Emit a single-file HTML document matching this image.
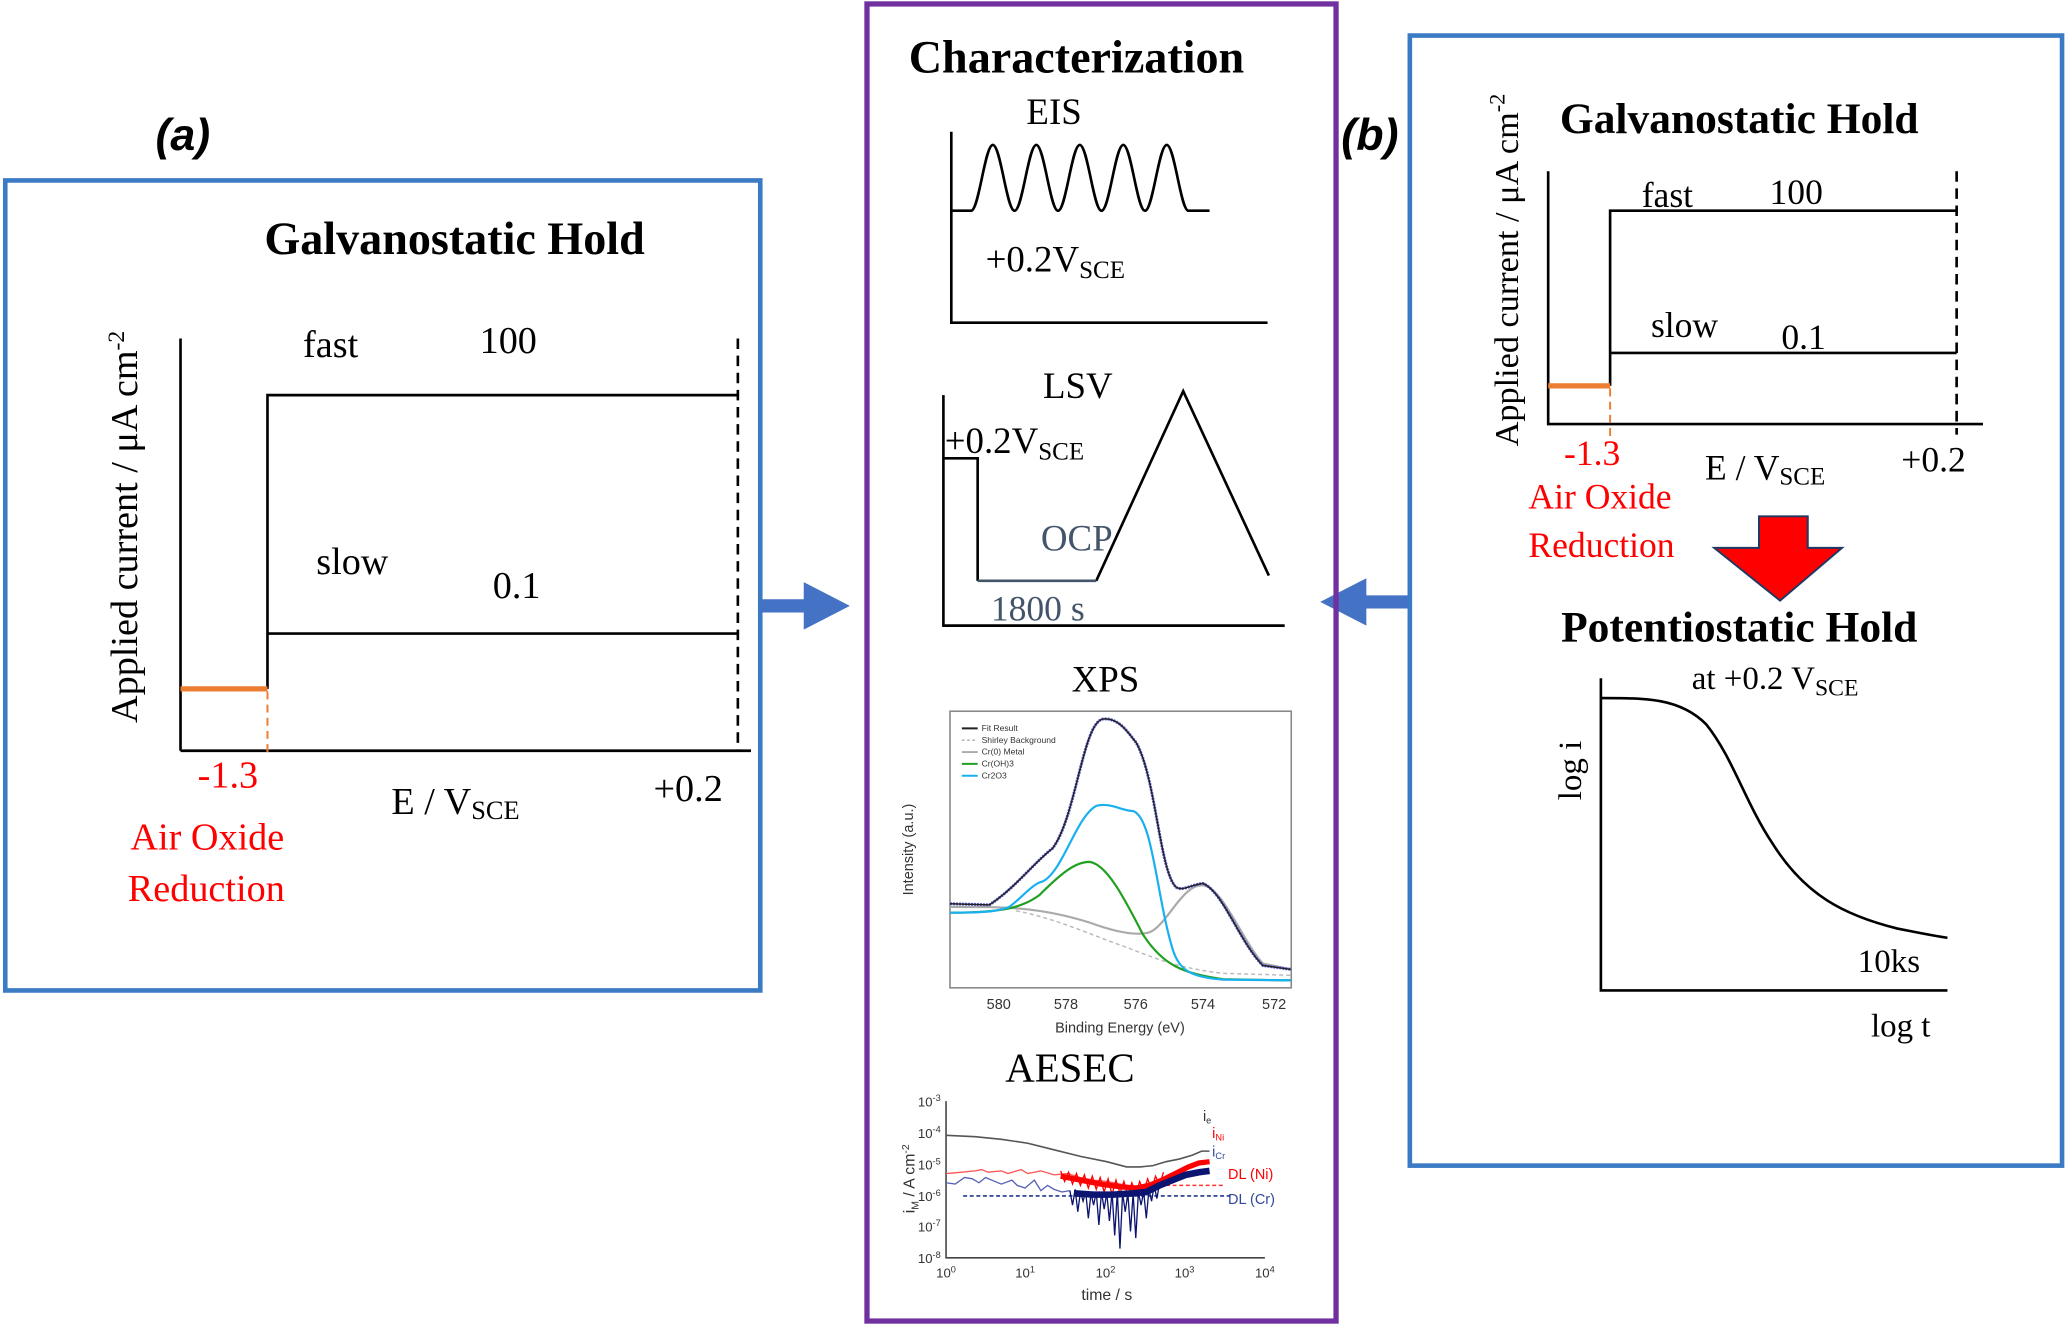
<!DOCTYPE html>
<html><head><meta charset="utf-8"><style>
html,body{margin:0;padding:0;background:#fff;}
svg{display:block;}
text{font-family:"Liberation Serif",serif;}
.s{font-family:"Liberation Sans",sans-serif;}
</style></head><body>
<svg width="2066" height="1325" viewBox="0 0 1568 1006" preserveAspectRatio="none" xmlns="http://www.w3.org/2000/svg">
<rect width="1568" height="1006" fill="#fff"/>

<!-- Panel (a) -->
<text x="118" y="114" class="s" font-size="34" font-weight="bold" font-style="italic">(a)</text>
<rect x="4" y="137" width="573" height="615" fill="none" stroke="#3b7bc4" stroke-width="3.5"/>
<text x="345" y="193" font-size="35" font-weight="bold" text-anchor="middle">Galvanostatic Hold</text>
<g stroke="#000" stroke-width="2" fill="none">
<line x1="137" y1="257" x2="137" y2="570"/>
<line x1="137" y1="570" x2="570" y2="570"/>
<polyline points="203,523 203,300 560,300"/>
<line x1="203" y1="481" x2="560" y2="481"/>
<line x1="560" y1="257" x2="560" y2="570" stroke-dasharray="8,5"/>
</g>
<line x1="137" y1="523" x2="203" y2="523" stroke="#ed7d31" stroke-width="4"/>
<line x1="203" y1="525" x2="203" y2="575" stroke="#ed7d31" stroke-width="1.5" stroke-dasharray="6,4"/>
<g font-size="29">
<text x="230" y="271">fast</text><text x="364" y="268">100</text>
<text x="240" y="436">slow</text><text x="374" y="454">0.1</text>
<text x="150" y="598" fill="#f00">-1.3</text>
<text x="297" y="618">E / V<tspan font-size="20" dy="4">SCE</tspan></text>
<text x="496" y="608">+0.2</text>
<text x="99" y="645" fill="#f00">Air Oxide</text>
<text x="97" y="684" fill="#f00">Reduction</text>
<text transform="translate(104,400) rotate(-90)" text-anchor="middle">Applied current / μA cm<tspan font-size="18" dy="-10">-2</tspan></text>
</g>

<!-- arrows -->
<polygon points="577,455 610,455 610,442 645,460 610,478 610,465 577,465" fill="#4472c4"/>
<polygon points="1070,452 1037,452 1037,439 1002,457 1037,475 1037,462 1070,462" fill="#4472c4"/>

<!-- middle panel -->
<rect x="658" y="3" width="356" height="1000" fill="none" stroke="#7030a0" stroke-width="4"/>
<text x="817" y="55" font-size="35" font-weight="bold" text-anchor="middle">Characterization</text>
<!-- EIS -->
<text x="800" y="94" font-size="28" text-anchor="middle">EIS</text>
<g stroke="#000" stroke-width="2" fill="none">
<polyline points="722,100 722,245 962,245"/>
<path d="M722,160 L737,160 C743,160 747.5,110 753.5,110 C759.5,110 764,160 770,160 C776,160 780.5,110 786.5,110 C792.5,110 797,160 803,160 C809,160 813.5,110 819.5,110 C825.5,110 830,160 836,160 C842,160 846.5,110 852.5,110 C858.5,110 863,160 869,160 C875,160 879.5,110 885.5,110 C891.5,110 896,160 902,160 L918,160"/>
</g>
<text x="748" y="206" font-size="28">+0.2V<tspan font-size="19" dy="5">SCE</tspan></text>
<!-- LSV -->
<text x="818" y="302" font-size="28" text-anchor="middle">LSV</text>
<g stroke="#000" stroke-width="2" fill="none">
<polyline points="716,300 716,475 975,475"/>
<polyline points="716,348 742,348 742,441"/>
<polyline points="832,441 898,297 963,437"/>
</g>
<line x1="742" y1="441" x2="832" y2="441" stroke="#44546a" stroke-width="2"/>
<text x="717" y="344" font-size="28">+0.2V<tspan font-size="19" dy="5">SCE</tspan></text>
<text x="790" y="418" font-size="28" fill="#44546a">OCP</text>
<text x="752" y="471" font-size="27" fill="#44546a">1800 s</text>
<!-- XPS -->
<text x="839" y="525" font-size="28" text-anchor="middle">XPS</text>
<rect x="721" y="540" width="259" height="210" fill="none" stroke="#888" stroke-width="1.2"/>
<svg x="721" y="540" width="259" height="210" viewBox="182 30 1023 707" preserveAspectRatio="none">
<g fill="none">
<path vector-effect="non-scaling-stroke" d="M380,540 C500,560 600,600 700,630 C780,655 850,685 1000,700 L1205,705" stroke="#bbb" stroke-width="1.5" stroke-dasharray="4,3"/>
<path vector-effect="non-scaling-stroke" d="M182,530 C350,530 450,530 600,570 C680,595 740,605 780,595 C830,580 880,470 940,475 C1000,480 1060,620 1120,675 L1205,690" stroke="#aaa" stroke-width="2.2"/>
<path vector-effect="non-scaling-stroke" d="M182,545 C350,545 400,530 450,500 C520,440 560,415 600,415 C650,420 700,500 760,600 C820,680 880,700 1000,715 L1205,718" stroke="#22a022" stroke-width="2.2"/>
<path vector-effect="non-scaling-stroke" d="M182,545 C300,545 330,540 360,530 C400,505 430,470 460,465 C520,440 560,300 620,272 C660,262 700,285 730,285 C790,300 800,500 850,640 C870,690 900,710 1000,716 L1205,718" stroke="#1ab0f0" stroke-width="2.2"/>
<path vector-effect="non-scaling-stroke" d="M182,522 L300,525 C380,480 430,420 490,380 C560,300 580,60 640,50 C690,45 720,90 740,110 C800,200 810,440 860,480 C880,490 900,475 940,470 C1000,490 1050,620 1120,680 L1205,690" stroke="#6060e0" stroke-width="3" stroke-dasharray="2,1"/>
<path vector-effect="non-scaling-stroke" d="M182,522 L300,525 C380,480 430,420 490,380 C560,300 580,60 640,50 C690,45 720,90 740,110 C800,200 810,440 860,480 C880,490 900,475 940,470 C1000,490 1050,620 1120,680 L1205,690" stroke="#222" stroke-width="1.5"/>
</g>
</svg>
<g font-size="6.5" fill="#333">
<line x1="730" y1="553" x2="742" y2="553" stroke="#222" stroke-width="1.5"/><text x="745" y="555" class="s">Fit Result</text>
<line x1="730" y1="562" x2="742" y2="562" stroke="#aaa" stroke-width="1" stroke-dasharray="2,2"/><text x="745" y="564" class="s">Shirley Background</text>
<line x1="730" y1="571" x2="742" y2="571" stroke="#aaa" stroke-width="1.5"/><text x="745" y="573" class="s">Cr(0) Metal</text>
<line x1="730" y1="580" x2="742" y2="580" stroke="#22a022" stroke-width="1.5"/><text x="745" y="582" class="s">Cr(OH)3</text>
<line x1="730" y1="589" x2="742" y2="589" stroke="#1ab0f0" stroke-width="1.5"/><text x="745" y="591" class="s">Cr2O3</text>
</g>
<g font-size="11" fill="#333" text-anchor="middle">
<text x="758" y="766" class="s">580</text><text x="809" y="766" class="s">578</text><text x="862" y="766" class="s">576</text><text x="913" y="766" class="s">574</text><text x="967" y="766" class="s">572</text>
<text x="850" y="784" class="s">Binding Energy (eV)</text>
<text transform="translate(693,645) rotate(-90)" class="s">Intensity (a.u.)</text>
</g>
<!-- AESEC -->
<text x="812" y="821" font-size="31" text-anchor="middle">AESEC</text>
<polyline points="718,836 718,955 960,955" stroke="#444" stroke-width="1.2" fill="none"/>
<g font-size="10" fill="#333" text-anchor="end">
<text x="714" y="840" class="s">10<tspan font-size="7" dy="-4">-3</tspan></text>
<text x="714" y="864" class="s">10<tspan font-size="7" dy="-4">-4</tspan></text>
<text x="714" y="888" class="s">10<tspan font-size="7" dy="-4">-5</tspan></text>
<text x="714" y="912" class="s">10<tspan font-size="7" dy="-4">-6</tspan></text>
<text x="714" y="935" class="s">10<tspan font-size="7" dy="-4">-7</tspan></text>
<text x="714" y="959" class="s">10<tspan font-size="7" dy="-4">-8</tspan></text>
</g>
<g font-size="10" fill="#333" text-anchor="middle">
<text x="718" y="970" class="s">10<tspan font-size="7" dy="-4">0</tspan></text>
<text x="778" y="970" class="s">10<tspan font-size="7" dy="-4">1</tspan></text>
<text x="839" y="970" class="s">10<tspan font-size="7" dy="-4">2</tspan></text>
<text x="899" y="970" class="s">10<tspan font-size="7" dy="-4">3</tspan></text>
<text x="960" y="970" class="s">10<tspan font-size="7" dy="-4">4</tspan></text>
<text x="840" y="987" font-size="12" class="s">time / s</text>
<text transform="translate(694,895) rotate(-90)" font-size="12" class="s">i<tspan font-size="8" dy="3">M</tspan><tspan dy="-3"> / A cm</tspan><tspan font-size="8" dy="-4">-2</tspan></text>
</g>
<line x1="731" y1="908" x2="935" y2="908" stroke="#1f3a8a" stroke-width="1.2" stroke-dasharray="3,2"/>
<line x1="870" y1="900" x2="930" y2="900" stroke="#f33" stroke-width="1.2" stroke-dasharray="3,2"/>
<polyline fill="none" stroke="#555" stroke-width="1.2" points="718,862 740,863 760,865 780,868 800,873 820,878 840,882 855,886 865,886 875,885 885,882 895,880 905,877 912,874 918,874"/>
<polyline fill="none" stroke="#f55" stroke-width="1" points="718,891 730,890 740,889 745,888 750,890 760,889 765,891 775,888 780,891 790,889 800,892 810,891 820,894 830,896 840,897 850,899 860,901 870,900 880,897 890,892 900,887 910,883 918,882"/>
<path fill="none" stroke="#f00" stroke-width="1" d="M805,889 L808,897 L811,890 L814,899 L817,891 L820,900 L823,892 L826,902 L829,893 L832,903 L835,894 L838,905 L841,895 L844,907 L847,896 L850,906 L853,897 L856,908 L859,898 L862,906 L865,897 L868,905 L871,895 L874,903 L877,893 L880,900 L883,890"/>
<polyline fill="none" stroke="#f00" stroke-width="4" points="805,893 820,896 835,899 850,901 862,902 872,900 882,896 892,891 902,886 910,883 918,882"/>
<polyline fill="none" stroke="#5561b5" stroke-width="1" points="718,898 725,899 732,894 738,895 743,898 748,894 755,897 760,899 768,896 772,900 778,902 785,896 790,904 795,900 800,903 806,905 812,904"/>
<path fill="none" stroke="#0b1470" stroke-width="1" d="M812,904 L814,915 L816,903 L818,920 L820,905 L822,912 L824,905 L826,925 L828,906 L830,915 L832,905 L834,930 L836,905 L838,918 L840,906 L842,927 L844,905 L846,938 L848,905 L850,948 L852,906 L854,920 L856,906 L858,935 L860,906 L862,940 L864,905 L866,915 L868,905 L870,925 L872,903 L874,912 L876,900 L878,910 L880,899"/>
<polyline fill="none" stroke="#0b1470" stroke-width="5" points="815,906 830,907 845,907 860,906 870,905 880,900 890,896 900,892 910,890 918,889"/>
<g font-size="11">
<text x="913" y="851" fill="#333" class="s">i<tspan font-size="7" dy="2">e</tspan></text>
<text x="920" y="864" fill="#f00" class="s">i<tspan font-size="7" dy="2">Ni</tspan></text>
<text x="920" y="878" fill="#33489a" class="s">i<tspan font-size="7" dy="2">Cr</tspan></text>
<text x="932" y="895" fill="#f00" class="s">DL (Ni)</text>
<text x="932" y="914" fill="#33489a" class="s">DL (Cr)</text>
</g>

<!-- Panel (b) -->
<text x="1018" y="114" class="s" font-size="34" font-weight="bold" font-style="italic">(b)</text>
<rect x="1070" y="27" width="495" height="858" fill="none" stroke="#3b7bc4" stroke-width="3.5"/>
<text x="1320" y="101" font-size="33" font-weight="bold" text-anchor="middle">Galvanostatic Hold</text>
<g stroke="#000" stroke-width="2" fill="none">
<polyline points="1175,130 1175,322 1505,322"/>
<polyline points="1222,293 1222,160 1485,160"/>
<line x1="1222" y1="268" x2="1485" y2="268"/>
<line x1="1485" y1="130" x2="1485" y2="330" stroke-dasharray="8,5"/>
</g>
<line x1="1175" y1="293" x2="1222" y2="293" stroke="#ed7d31" stroke-width="4"/>
<line x1="1222" y1="295" x2="1222" y2="335" stroke="#ed7d31" stroke-width="1.5" stroke-dasharray="6,4"/>
<g font-size="27">
<text x="1246" y="157">fast</text><text x="1343" y="155">100</text>
<text x="1253" y="256">slow</text><text x="1352" y="265">0.1</text>
<text x="1187" y="353" fill="#f00">-1.3</text>
<text x="1294" y="364">E / V<tspan font-size="19" dy="4">SCE</tspan></text>
<text x="1443" y="358">+0.2</text>
<text x="1160" y="386" fill="#f00">Air Oxide</text>
<text x="1160" y="423" fill="#f00">Reduction</text>
<text transform="translate(1152,205) rotate(-90)" text-anchor="middle" font-size="26">Applied current / μA cm<tspan font-size="17" dy="-10">-2</tspan></text>
</g>
<polygon points="1335,392 1372,392 1372,416 1398,416 1351,456 1301,416 1335,416" fill="#f00" stroke="#1f3864" stroke-width="1.5"/>
<text x="1320" y="487" font-size="33" font-weight="bold" text-anchor="middle">Potentiostatic Hold</text>
<text x="1284" y="523" font-size="25">at +0.2 V<tspan font-size="18" dy="5">SCE</tspan></text>
<g stroke="#000" stroke-width="2" fill="none">
<polyline points="1215,515 1215,752 1478,752"/>
<path d="M1215,530 C1250,530 1275,530 1295,550 C1315,575 1325,610 1345,640 C1370,680 1400,695 1440,705 C1460,709 1470,711 1478,712"/>
</g>
<text transform="translate(1200,585) rotate(-90)" font-size="25" text-anchor="middle">log i</text>
<text x="1410" y="738" font-size="25">10ks</text>
<text x="1420" y="787" font-size="25">log t</text>
</svg>
</body></html>
